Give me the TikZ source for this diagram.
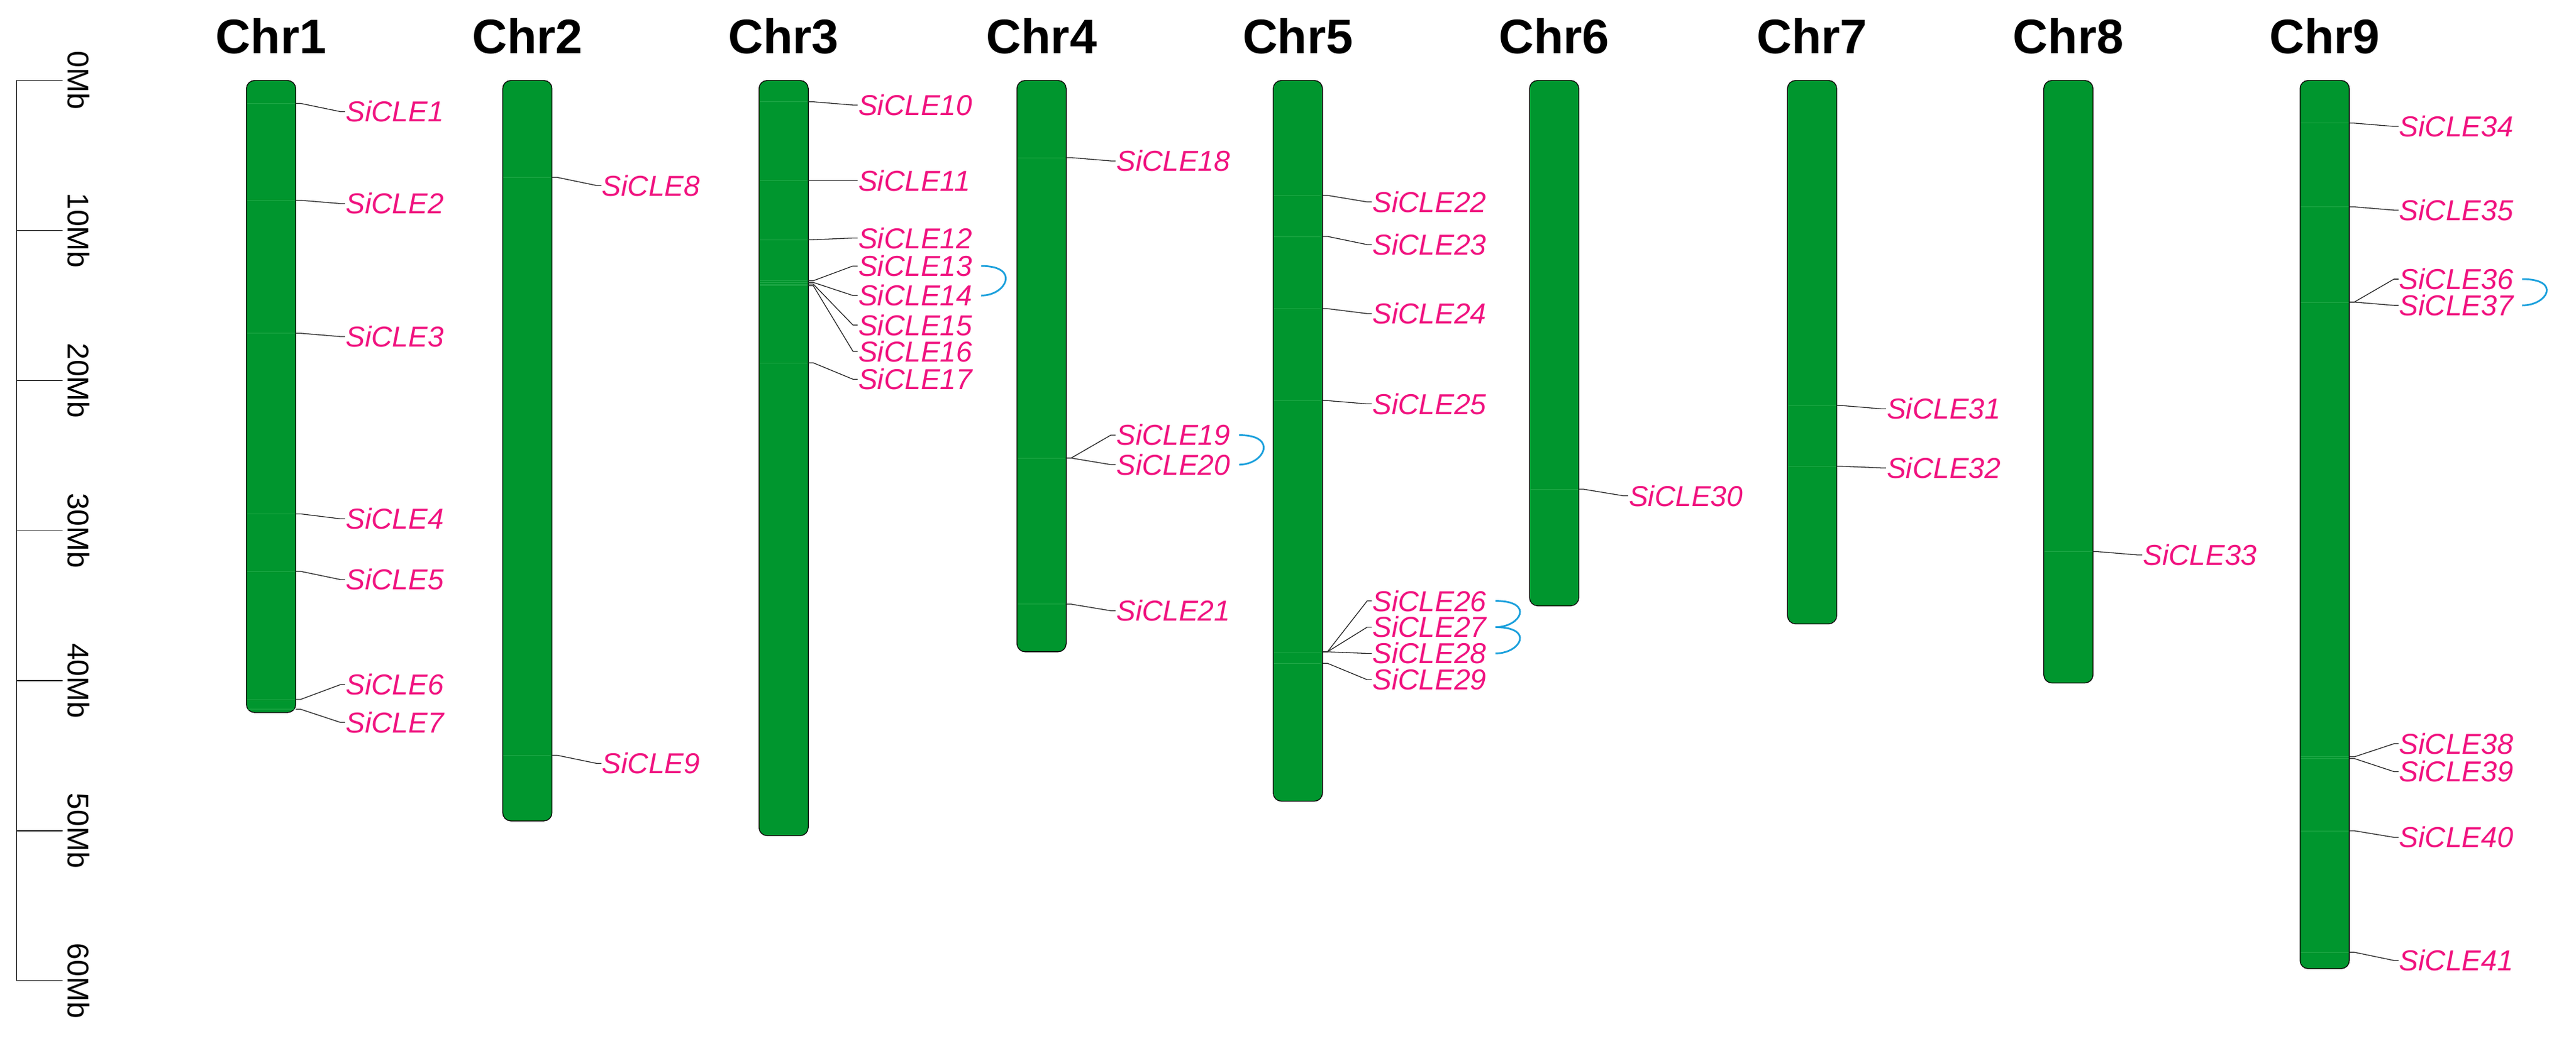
\documentclass[tikz,border=0pt]{standalone}
\usepackage{fontspec}
\setmainfont{Liberation Sans}
\definecolor{chrgreen}{HTML}{00962E}
\definecolor{markgreen}{HTML}{1FA847}
\definecolor{genepink}{HTML}{F0127F}
\definecolor{dupblue}{HTML}{1BA0DC}
\tikzset{
 chrbox/.style={draw=black,line width=0.7pt,fill=chrgreen,rounded corners=0.25cm},
 genelab/.style={anchor=west,inner sep=0.5pt,text=genepink,font=\fontsize{25}{25}\selectfont\itshape},
 chrtitle/.style={font=\fontsize{42}{42}\selectfont\bfseries},
 scalelab/.style={rotate=-90,font=\fontsize{26}{26}\selectfont},
 link/.style={line width=0.7pt,black!85},
 dup/.style={line width=1.5pt,dupblue},
}
\newcommand{\chrom}[3]{% name, left x, bottom y
 \draw[chrbox] (#2,49) rectangle (#2+30,#3);
 \node[chrtitle] (t#1) at (#2+15,22) {Chr#1};}
\newcommand{\gene}[4]{% number, chr left x, mark y, label y
 \draw[markgreen,line width=0.4pt] (#2+0.5,#3) -- (#2+29.5,#3);
 \coordinate (m#1) at (#2+30,#3);
 \node[genelab] (g#1) at (#2+60,#4) {SiCLE#1};
 \draw[link] (m#1) -- ++(3,0) -- ([xshift=-4]g#1.west) -- (g#1.west);}
\newcommand{\dupl}[2]{\draw[dup] ([xshift=7]#1.east) .. controls +(24,0) and ([xshift=29]#2.east) .. ([xshift=7]#2.east);}
\begin{document}
\begin{tikzpicture}[x=0.05cm,y=-0.05cm]
\useasboundingbox (0,0) rectangle (1568,637);
% scale bar
\draw[line width=0.7pt] (10,49) -- (10,597);
\foreach \i/\t in {0/0Mb,1/10Mb,2/20Mb,3/30Mb,4/40Mb,5/50Mb,6/60Mb}{
 \draw[line width=0.7pt] (10,49+91.4*\i) -- (38,49+91.4*\i);
 \node[scalelab] (s\i) at (48,49+91.4*\i) {\t};}
% chromosomes
\chrom{1}{150}{434}
\chrom{2}{306}{500}
\chrom{3}{462}{509}
\chrom{4}{619}{397}
\chrom{5}{775}{488}
\chrom{6}{931}{369}
\chrom{7}{1088}{380}
\chrom{8}{1244}{416}
\chrom{9}{1400}{590}
% genes
\gene{1}{150}{63}{68}
\gene{2}{150}{122}{124}
\gene{3}{150}{203}{205}
\gene{4}{150}{313}{316}
\gene{5}{150}{348}{353}
\gene{6}{150}{426}{417}
\gene{7}{150}{432}{440}
\gene{8}{306}{108}{113}
\gene{9}{306}{460}{465}
\gene{10}{462}{62}{64}
\gene{11}{462}{110}{110}
\gene{12}{462}{146}{145}
\gene{13}{462}{171}{162}
\gene{14}{462}{172}{180}
\gene{15}{462}{173}{198}
\gene{16}{462}{174}{214}
\gene{17}{462}{221}{231}
\gene{18}{619}{96}{98}
\gene{19}{619}{279}{265}
\gene{20}{619}{279}{283}
\gene{21}{619}{368}{372}
\gene{22}{775}{119}{123}
\gene{23}{775}{144}{149}
\gene{24}{775}{188}{191}
\gene{25}{775}{244}{246}
\gene{26}{775}{397}{366}
\gene{27}{775}{397}{382}
\gene{28}{775}{397}{398}
\gene{29}{775}{404}{414}
\gene{30}{931}{298}{302}
\gene{31}{1088}{247}{249}
\gene{32}{1088}{284}{285}
\gene{33}{1244}{336}{338}
\gene{34}{1400}{75}{77}
\gene{35}{1400}{126}{128}
\gene{36}{1400}{184}{170}
\gene{37}{1400}{184}{186}
\gene{38}{1400}{461}{453}
\gene{39}{1400}{462}{470}
\gene{40}{1400}{506}{510}
\gene{41}{1400}{580}{585}
% segmental duplications
\dupl{g13}{g14}
\dupl{g19}{g20}
\dupl{g26}{g27}
\dupl{g27}{g28}
\dupl{g36}{g37}
\end{tikzpicture}
\end{document}
